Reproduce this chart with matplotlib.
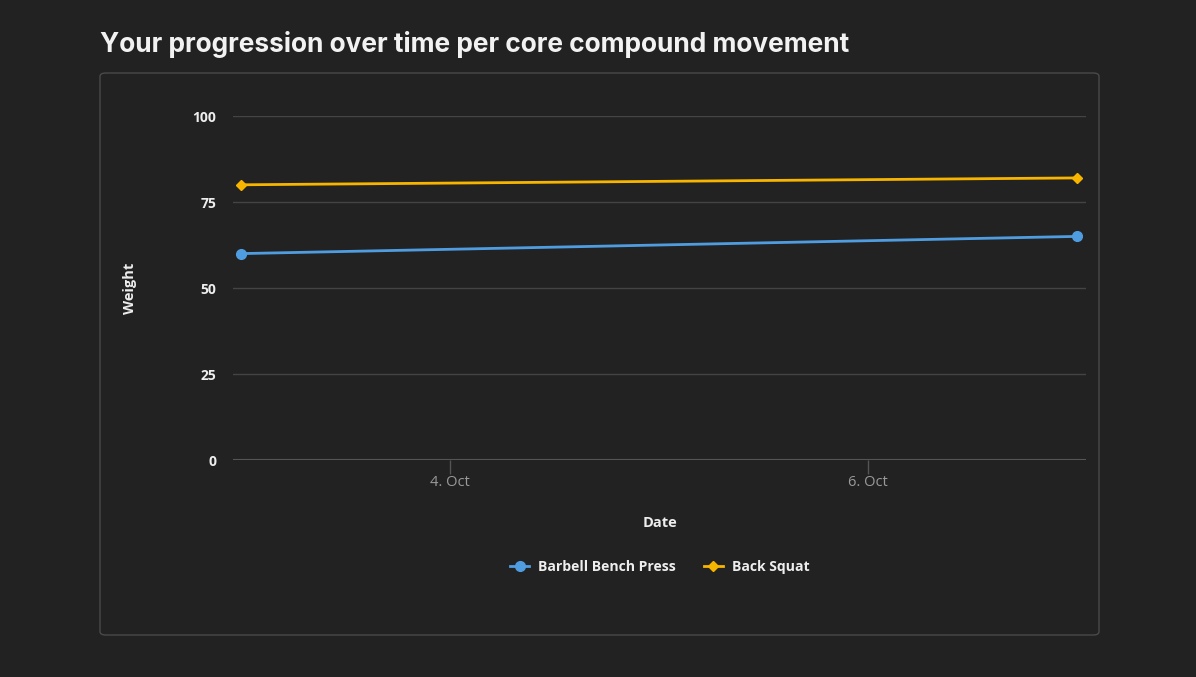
import matplotlib
matplotlib.use("Agg")
import matplotlib.pyplot as plt
import matplotlib.dates as mdates
from matplotlib.patches import FancyBboxPatch
import datetime as dt

dates = [dt.datetime(2023, 10, 3), dt.datetime(2023, 10, 7)]
bench = [60, 65]
squat = [80, 82]
series_names = ["Barbell Bench Press", "Back Squat"]
yticks = [0, 25, 50, 75, 100]
xticks = [dt.datetime(2023, 10, 4), dt.datetime(2023, 10, 6)]
xtick_labels = ["4. Oct", "6. Oct"]

BG = "#222222"
W, H = 1196, 677
fig = plt.figure(figsize=(W / 100, H / 100), dpi=100, facecolor=BG)

# panel
panel = FancyBboxPatch((100 / W, 1 - 635 / H), 999 / W, 562 / H,
                       boxstyle="round,pad=0,rounding_size=0.005",
                       transform=fig.transFigure, facecolor=BG,
                       edgecolor="#4a4a4a", linewidth=1.0, zorder=-5)
fig.patches.append(panel)

fig.text(100 / W, 1 - 44 / H, "Your progression over time per core compound movement",
         family="Inter", fontweight="bold", fontsize=18.9, color="#f2f2f2",
         va="center", ha="left")

ax = fig.add_axes([233 / W, 1 - 460 / H, (1086 - 233) / W, (460 - 116) / H])
ax.set_facecolor("none")
ax.plot(dates, bench, color="#4f9de0", lw=2, marker="o", ms=7, label=series_names[0], zorder=3)
ax.plot(dates, squat, color="#f7b500", lw=2, marker="D", ms=5.5, label=series_names[1], zorder=3)

ax.set_ylim(0, 100)
ax.set_xlim(dates[0] - dt.timedelta(hours=0.95), dates[1] + dt.timedelta(hours=1.05))
ax.set_yticks(yticks)
ax.set_yticklabels([str(v) for v in yticks])
ax.set_xticks(xticks)
ax.set_xticklabels(xtick_labels)

for s in ax.spines.values():
    s.set_visible(False)
for v in yticks[1:]:
    ax.axhline(v, color="#444444", lw=1, zorder=1)
ax.axhline(0, color="#555555", lw=1.5, zorder=1)

ax.tick_params(axis="y", length=0, pad=12, labelsize=10, labelcolor="#eeeeee")
ax.tick_params(axis="x", length=10, width=1, color="#555555", pad=0.5,
               labelsize=10.5, labelcolor="#9a9a9a")
for lbl in ax.get_yticklabels():
    lbl.set_fontfamily("Open Sans")
    lbl.set_fontweight("bold")
for lbl in ax.get_xticklabels():
    lbl.set_fontfamily("Open Sans")

ax.set_ylabel("Weight", family="Open Sans", fontweight="bold", fontsize=10.5,
              color="#eeeeee", labelpad=40)
ax.set_xlabel("Date", family="Open Sans", fontweight="bold", fontsize=10.5,
              color="#eeeeee", labelpad=19)

leg = ax.legend(loc="center", bbox_to_anchor=(0.5, -0.31), ncol=2, frameon=False,
                handlelength=1.4, columnspacing=2.0, handletextpad=0.6,
                prop={"family": "Open Sans", "weight": "bold", "size": 10.1})
for t in leg.get_texts():
    t.set_color("#eeeeee")

fig.savefig("out.png", dpi=100, facecolor=BG)
